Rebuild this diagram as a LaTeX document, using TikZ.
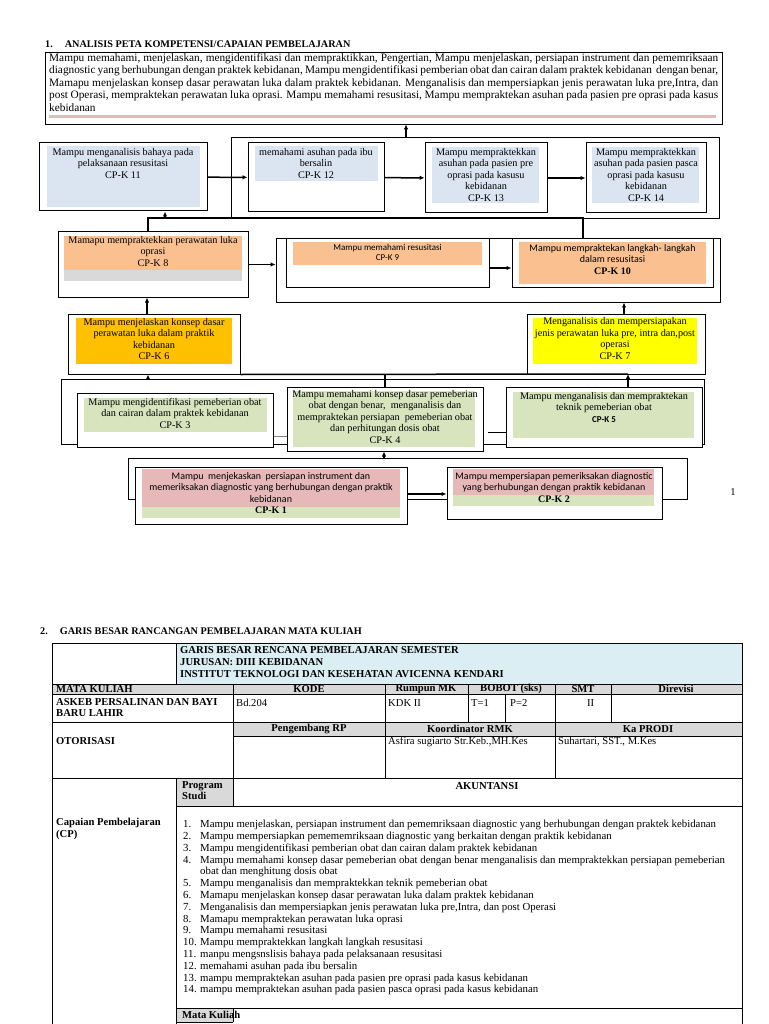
\documentclass[tikz,border=0pt]{standalone}
\usepackage{fontspec}
\setmainfont{Liberation Serif}
\newfontfamily\calibri{Carlito}
\usetikzlibrary{arrows.meta}

\definecolor{biru}{HTML}{DBE5F1}
\definecolor{oranye}{HTML}{FAC090}
\definecolor{abu}{HTML}{D9D9D9}
\definecolor{emas}{HTML}{FFC000}
\definecolor{kuning}{HTML}{FFFF00}
\definecolor{hijau}{HTML}{D7E4BD}
\definecolor{merah}{HTML}{E6B9B8}
\definecolor{birumuda}{HTML}{DAEEF3}

\begin{document}
\begin{tikzpicture}[x=1pt, y=-1pt,
    kotak/.style={draw, fill=white, line width=1pt, inner sep=0pt},
    wadah/.style={draw, line width=0.9pt, inner sep=0pt},
    teks/.style={anchor=north, align=center, inner sep=0pt, font=\fontsize{10.2}{11.5}\selectfont},
    sans/.style={anchor=north, align=center, inner sep=0pt, font=\calibri\fontsize{10}{11.5}\selectfont},
    panah/.style={-{Latex[length=5pt,width=4.5pt]}, line width=1.5pt},
    garis/.style={line width=1.5pt},
    sel/.style={anchor=west, inner sep=0pt, align=left, font=\fontsize{10.6}{11.7}\selectfont},
    tebal/.style={sel, font=\fontsize{10.6}{11.7}\selectfont\bfseries}
]
\fill[white] (0,0) rectangle (768,1024);
\useasboundingbox (0,0) rectangle (768,1024);

% bagian 1
\node[anchor=west, inner sep=0pt, font=\fontsize{10.2}{12}\selectfont\bfseries] (judul1) at (45,44) {1.\hspace{12pt}ANALISIS PETA KOMPETENSI/CAPAIAN PEMBELAJARAN};
\node[kotak, line width=0.8pt, minimum width=677pt, minimum height=72pt] (atas) at (383.5,88) {};
\draw[merah, line width=3pt] (49,117) -- (716,117);
\node[anchor=north west, inner sep=0pt, align=left, font=\fontsize{11.3}{12.5}\selectfont] (ringkas) at (49,53) {%
\makebox[669pt][s]{Mampu memahami, menjelaskan, mengidentifikasi dan mempraktikkan, Pengertian, Mampu menjelaskan, persiapan instrument dan pememriksaan}\\
\makebox[669pt][s]{diagnostic yang berhubungan dengan praktek kebidanan, Mampu mengidentifikasi pemberian obat dan cairan dalam praktek kebidanan\ \ dengan benar,}\\
\makebox[669pt][s]{Mamapu menjelaskan konsep dasar perawatan luka dalam praktek kebidanan. Menganalisis dan mempersiapkan jenis perawatan luka pre,Intra, dan}\\
\makebox[669pt][s]{post Operasi, mempraktekan perawatan luka oprasi. Mampu memahami resusitasi, Mampu mempraktekan asuhan pada pasien pre oprasi pada kasus}\\
kebidanan};

% baris CP-K 11 - 14
\node[wadah, minimum width=488pt, minimum height=81pt] (luar2) at (475,177.5) {};
\node[kotak, minimum width=168pt, minimum height=68pt] (k11) at (123,177) {};
\fill[biru] (47,146) rectangle (200,207);
\node[teks] (t11) at (123,148) {Mampu menganalisis bahaya pada\\pelaksanaan resusitasi\\CP-K 11};
\node[kotak, minimum width=136pt, minimum height=69pt] (k12) at (316,177.5) {};
\fill[biru] (255,146) rectangle (378,181);
\node[teks] (t12) at (316,148) {memahami asuhan pada ibu\\bersalin\\CP-K 12};
\node[kotak, minimum width=122pt, minimum height=70pt] (k13) at (486,178) {};
\fill[biru] (432,147) rectangle (539,203);
\node[teks] (t13) at (486,148) {Mampu mempraktekkan\\asuhan pada pasien pre\\oprasi pada kasusu\\kebidanan\\CP-K 13};
\node[kotak, minimum width=120pt, minimum height=70pt] (k14) at (646,178) {};
\fill[biru] (592,147) rectangle (699,203);
\node[teks] (t14) at (646,148) {Mampu mempraktekkan\\asuhan pada pasien pasca\\oprasi pada kasusu\\kebidanan\\CP-K 14};
\draw[panah] (k11) -- (k12);
\draw[panah] (k12) -- (k13);
\draw[panah] (k13) -- (k14);
\draw[panah] (luar2.north -| 406,0) -- (atas.south -| 406,0);

% baris CP-K 8 - 10
\node[kotak, minimum width=190pt, minimum height=65pt] (k8) at (153,264.5) {};
\fill[oranye] (64,236) rectangle (242,270);
\fill[abu] (64,270) rectangle (242,281);
\node[teks] (t8) at (153,236) {Mamapu mempraktekkan perawatan luka\\oprasi\\CP-K 8};
\node[wadah, minimum width=444pt, minimum height=64pt] (luar3) at (498,270) {};
\node[kotak, minimum width=203pt, minimum height=49pt] (k9) at (387.5,262.5) {};
\fill[oranye] (293,242) rectangle (482,265);
\node[sans, font=\calibri\fontsize{9}{10}\selectfont] (t9) at (387.5,244.5) {Mampu memahami resusitasi\\CP-K 9};
\node[kotak, minimum width=201pt, minimum height=49pt] (k10) at (612.5,262.5) {};
\fill[oranye] (519,242) rectangle (706,284);
\node[sans] (t10) at (612.5,244) {Mampu mempraktekan langkah- langkah\\dalam resusitasi\\{\rmfamily\bfseries CP-K 10}};
\draw[panah] (k8) -- (k8 -| luar3.west);
\draw[panah] (k9.east |- 0,268) -- (k10.west |- 0,268);
\draw[garis] (k8.north -| 148,0) -- (148,218) -| (k10.north -| 583,0);
\draw[panah] (165,218) -- (k11.south -| 165,0);

% baris CP-K 6 dan 7
\node[kotak, minimum width=172pt, minimum height=60pt] (k6) at (154,344) {};
\fill[emas] (76,318) rectangle (232,364);
\node[teks] (t6) at (154,318) {Mampu menjelaskan konsep dasar\\perawatan luka dalam praktik\\kebidanan\\CP-K 6};
\node[kotak, minimum width=178pt, minimum height=60pt] (k7) at (616,344) {};
\fill[kuning] (533,318) rectangle (697,364);
\node[teks] (t7) at (615,317.5) {Menganalisis dan mempersiapakan\\jenis perawatan luka pre, intra dan,post\\operasi\\CP-K 7};
\draw[panah] (k6.north -| 147,0) -- (k8.south -| 147,0);
\draw[panah] (k7.north -| 624,0) -- (luar3.south -| 624,0);

% baris CP-K 3 - 5
\node[wadah, minimum width=643pt, minimum height=65pt] (luar4) at (382.5,411.5) {};
\node[kotak, minimum width=196pt, minimum height=54pt] (k3) at (175,420) {};
\fill[hijau] (84,398) rectangle (267,432);
\node[teks] (t3) at (175,398) {Mampu mengidentifikasi pemeberian obat\\dan cairan dalam praktek kebidanan\\CP-K 3};
\node[kotak, minimum width=196pt, minimum height=64pt] (k4) at (385,419) {};
\fill[hijau] (293,391) rectangle (475,447);
\node[teks] (t4) at (385,390) {Mampu memahami konsep dasar pemeberian\\obat dengan benar,\ \ menganalisis dan\\mempraktekan persiapan\ \ pemeberian obat\\dan perhitungan dosis obat\\CP-K 4};
\node[kotak, minimum width=196pt, minimum height=60pt] (k5) at (604,417) {};
\fill[hijau] (513,392) rectangle (694,438);
\node[teks] (t5) at (604,392) {Mampu menganalisis dan mempraktekan\\teknik pemeberian obat\\{\calibri\bfseries\fontsize{9}{11.5}\selectfont CP-K 5}};
\draw[gray, line width=0.8pt] (k3.east |- 0,436) -- (k4.west |- 0,436);
\draw[line width=1pt] (488,432) -- (k5.west |- 0,432);
\draw[garis] (k6.south east) -- (628,374);
\draw[garis] (k4.north) -- (k4.north |- 0,374);
\draw[panah] (k5.north -| 628,0) -- (628,374);
\draw[panah] (luar4.north -| 148,0) -- (k6.south -| 148,0);

% baris CP-K 1 dan 2
\node[wadah, minimum width=559pt, minimum height=41pt] (luar5) at (407.5,478.5) {};
\node[kotak, minimum width=272pt, minimum height=57pt] (k1) at (271,495.5) {};
\fill[merah] (142,469) rectangle (400,507);
\fill[hijau] (142,507) rectangle (400,518);
\node[sans] (t1) at (271,472) {Mampu\ \ menjekaskan\ \ persiapan instrument dan\\memeriksakan diagnostic yang berhubungan dengan praktik\\kebidanan\\{\rmfamily\bfseries CP-K 1}};
\node[kotak, minimum width=215pt, minimum height=52pt] (k2) at (554.5,493) {};
\fill[merah] (453,469) rectangle (654,495);
\fill[hijau] (453,495) rectangle (654,506);
\node[sans] (t2) at (554,472) {Mampu mempersiapan pemeriksakan diagnostic\\yang berhubungan dengan praktik kebidanan\\{\rmfamily\bfseries CP-K 2}};
\draw[panah] (luar5.north -| 384,0) -- (k4.south -| 384,0);
\draw[panah] (k1.east |- 0,494) -- (k2.west |- 0,494);
\node[inner sep=0pt, font=\fontsize{10.5}{12}\selectfont] (hal) at (733,492) {1};

% bagian 2
\node[anchor=west, inner sep=0pt, font=\fontsize{10.2}{12}\selectfont\bfseries] (judul2) at (40,631) {2.\hspace{12pt}GARIS BESAR RANCANGAN PEMBELAJARAN MATA KULIAH};

% tabel
\fill[birumuda] (176,643) rectangle (742,684);
\fill[abu] (52,684) rectangle (742,694);
\fill[abu] (233,722) rectangle (742,736);
\fill[abu] (176,778) rectangle (233,806);
\fill[abu] (176,1008) rectangle (233,1022);
\begin{scope}[line width=0.8pt]
\draw (52,643) rectangle (742,1030);
\foreach \y in {684,694,722,778} \draw (52,\y) -- (742,\y);
\draw (233,736) -- (742,736);
\draw (176,806) -- (742,806);
\draw (176,1008) -- (742,1008);
\draw (176,1022) -- (233,1022);
\draw (176,643) -- (176,684);
\draw (176,778) -- (176,1030);
\draw (233,684) -- (233,806);
\draw (233,1008) -- (233,1022);
\draw (385,684) -- (385,778);
\draw (555,684) -- (555,778);
\draw (468,684) -- (468,722);
\draw (505,694) -- (505,722);
\draw (611,684) -- (611,722);
\end{scope}

\node[tebal] (g1) at (180,650) {GARIS BESAR RENCANA PEMBELAJARAN SEMESTER};
\node[tebal] (g2) at (180,662) {JURUSAN: DIII KEBIDANAN};
\node[tebal] (g3) at (180,674) {INSTITUT TEKNOLOGI DAN KESEHATAN AVICENNA KENDARI};
\node[tebal] (h1) at (56,689) {MATA KULIAH};
\node[tebal, anchor=center] (h2) at (309,689) {KODE};
\node[tebal, anchor=center] (h3) at (426,689) {Rumpun MK};
\node[tebal, anchor=center] (h4) at (511,689) {BOBOT (sks)};
\node[tebal, anchor=center] (h5) at (583,689) {SMT};
\node[tebal, anchor=center] (h6) at (676,689) {Direvisi};
\node[tebal, anchor=north west] (mk) at (56,698) {ASKEB PERSALINAN DAN BAYI\\BARU LAHIR};
\node[sel] (kode) at (236,703) {Bd.204};
\node[sel] (rumpun) at (388,703) {KDK II};
\node[sel] (bt) at (471,703) {T=1};
\node[sel] (bp) at (510,703) {P=2};
\node[sel] (smt) at (587,703) {II};
\node[tebal, anchor=center] (h7) at (309,729) {Pengembang RP};
\node[tebal, anchor=center] (h8) at (470,729) {Koordinator RMK};
\node[tebal, anchor=center] (h9) at (648,729) {Ka PRODI};
\node[tebal] (oto) at (56,741) {OTORISASI};
\node[sel] (koord) at (388,742) {Asfira sugiarto Str.Keb.,MH.Kes};
\node[sel] (kaprodi) at (558,742) {Suhartari, SST., M.Kes};
\node[tebal, anchor=north west] (prodi) at (182,781) {Program\\Studi};
\node[tebal, anchor=center] (akun) at (487,786) {AKUNTANSI};
\node[tebal, anchor=north west] (cp) at (56,818) {Capaian Pembelajaran\\(CP)};
\node[anchor=north west, inner sep=0pt, align=left, font=\fontsize{10.8}{11.8}\selectfont] (daftar) at (183,820) {%
\makebox[17pt][l]{1.}Mampu menjelaskan, persiapan instrument dan pememriksaan diagnostic yang berhubungan dengan praktek kebidanan\\
\makebox[17pt][l]{2.}Mampu mempersiapkan pemememriksaan diagnostic yang berkaitan dengan praktik kebidanan\\
\makebox[17pt][l]{3.}Mampu mengidentifikasi pemberian obat dan cairan dalam praktek kebidanan\\
\makebox[17pt][l]{4.}Mampu memahami konsep dasar pemeberian obat dengan benar menganalisis dan mempraktekkan persiapan pemeberian\\
\hspace*{17pt}obat dan menghitung dosis obat\\
\makebox[17pt][l]{5.}Mampu menganalisis dan mempraktekkan teknik pemeberian obat\\
\makebox[17pt][l]{6.}Mamapu menjelaskan konsep dasar perawatan luka dalam praktek kebidanan\\
\makebox[17pt][l]{7.}Menganalisis dan mempersiapkan jenis perawatan luka pre,Intra, dan post Operasi\\
\makebox[17pt][l]{8.}Mamapu mempraktekan perawatan luka oprasi\\
\makebox[17pt][l]{9.}Mampu memahami resusitasi\\
\makebox[17pt][l]{10.}Mampu mempraktekkan langkah langkah resusitasi\\
\makebox[17pt][l]{11.}manpu mengsnslisis bahaya pada pelaksanaan resusitasi\\
\makebox[17pt][l]{12.}memahami asuhan pada ibu bersalin\\
\makebox[17pt][l]{13.}mampu mempraktekan asuhan pada pasien pre oprasi pada kasus kebidanan\\
\makebox[17pt][l]{14.}mampu mempraktekan asuhan pada pasien pasca oprasi pada kasus kebidanan};
\node[tebal] (matkul) at (182,1015) {Mata Kuliah};
\end{tikzpicture}
\end{document}
